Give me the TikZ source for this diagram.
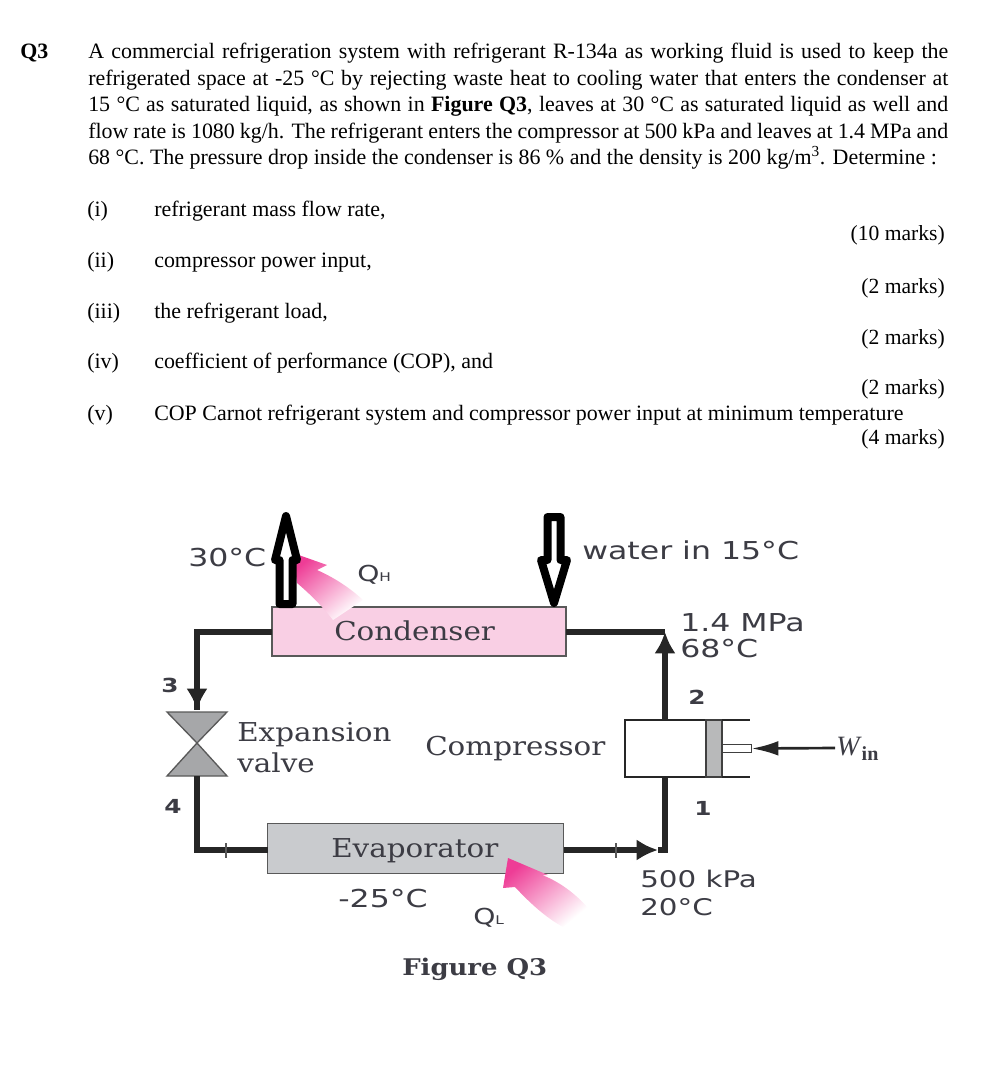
\documentclass[tikz,border=0pt]{standalone}
\usepackage{fontspec}
\setmainfont{Liberation Serif}
\newfontfamily\sanslabel[FakeStretch=1.28]{DejaVu Sans}
\newfontfamily\seriflabel[FakeStretch=1.13]{DejaVu Serif}
\usetikzlibrary{arrows.meta}
\usetikzlibrary{positioning}

\definecolor{condpink}{HTML}{F9CFE4}
\definecolor{evapgray}{HTML}{C9CBCE}
\definecolor{valvegray}{HTML}{A6A7A9}
\definecolor{heatpink}{HTML}{EE3D96}
\definecolor{inktext}{HTML}{3C3C44}

\tikzset{
  bodytext/.style={anchor=base west, inner sep=0pt, font=\fontsize{16.45}{19.8}\selectfont},
  marktext/.style={anchor=base east, inner sep=0pt, font=\fontsize{16.2}{19.8}\selectfont},
  senselabel/.style={anchor=base west, inner sep=0pt, text=inktext, font=\sanslabel\fontsize{18.5}{20}\selectfont},
  smalllabel/.style={anchor=base west, inner sep=0pt, text=inktext, font=\sanslabel\fontsize{17.2}{20}\selectfont},
  heatlabel/.style={anchor=base west, inner sep=0pt, text=inktext, font=\sanslabel\fontsize{16.5}{18}\selectfont},
  statenum/.style={anchor=base, inner sep=0pt, text=inktext, font=\sanslabel\bfseries\fontsize{14.5}{18}\selectfont},
  partlabel/.style={anchor=base west, inner sep=0pt, text=inktext, font=\seriflabel\fontsize{19.5}{22}\selectfont},
  unitbox/.style={draw=black!65, line width=1pt, outer sep=0pt, inner sep=0pt},
  pipe/.style={line width=3.8pt, draw=black!85},
  pipearrow/.style={pipe, -{Latex[length=16pt,width=16pt]}},
  waterarrow/.style={draw=black, line width=6pt, fill=white, line join=round},
  heatarrow/.style={shading=axis, top color=heatpink, bottom color=white},
  tickmark/.style={line width=0.8pt, draw=black!65},
  cyl/.style={line width=2pt, draw=black!85}
}

\begin{document}
\begin{tikzpicture}[x=0.75pt,y=-0.75pt]
  \useasboundingbox (0,0) rectangle (993,1080);

  % question text
  \node [anchor=base west, inner sep=0pt, font=\bfseries\fontsize{16.45}{19.8}\selectfont] (qnum) at (20,59) {Q3};
  \node [bodytext, text width=645pt, align=justify] (qtext) at (88,59)
    {A commercial refrigeration system with refrigerant R-134a as working fluid is used to keep the\linebreak
    refrigerated space at -25 °C by rejecting waste heat to cooling water that enters the condenser at\linebreak
    15 °C as saturated liquid, as shown in \textbf{Figure Q3}, leaves at 30 °C as saturated liquid as well and\linebreak
    flow rate is 1080 kg/h. The refrigerant enters the compressor at 500 kPa and leaves at 1.4 MPa and\linebreak
    68 °C. The pressure drop inside the condenser is 86 \% and the density is 200 kg/m\textsuperscript{3}. Determine :};

  \foreach \name/\ypos/\roman/\txt in {
      a/217/(i)/{refrigerant mass flow rate,},
      b/268/(ii)/{compressor power input,},
      c/318/(iii)/{the refrigerant load,},
      d/368/(iv)/{coefficient of performance (COP), and},
      e/420/(v)/{COP Carnot refrigerant system and compressor power input at minimum temperature}} {
    \node [bodytext] (num\name) at (87,\ypos) {\roman};
    \node [bodytext] (item\name) at (154,\ypos) {\txt};
  }
  \foreach \name/\ypos/\txt in {a/241/10, b/293/2, c/344/2, d/394/2, e/444/4}
    \node [marktext] (mark\name) at (945,\ypos) {(\txt\ marks)};

  % units
  \node [unitbox, fill=condpink, minimum width=220.5pt, minimum height=36.75pt] (condenser) at (419,631.5) {};
  \node [unitbox, fill=evapgray, minimum width=222pt, minimum height=37.5pt] (evaporator) at (415.5,848.5) {};
  \node [partlabel] (condtext) at (334,640) {Condenser};
  \node [partlabel] (evaptext) at (331,857) {Evaporator};

  % heat arrows
  \shade [heatarrow, shading angle=40] (293,553) -- (327,565) -- (317,570)
    .. controls (335,578) and (350,588) .. (363,600) -- (333,620)
    .. controls (322,606) and (310,594) .. (297,583) -- cycle;
  \shade [heatarrow, shading angle=40] (508,858) -- (548,875) -- (542,875)
    .. controls (558,881) and (575,893) .. (588,908) -- (563,927)
    .. controls (545,917) and (530,903) .. (515,887) -- (503,888) -- cycle;

  % water lines
  \draw [waterarrow] (279.5,604) -- (279.5,560) -- (275,560) -- (286,516) -- (297,560) -- (292.5,560) -- (292.5,604) -- cycle;
  \draw [waterarrow] (547.5,517) -- (547.5,560) -- (541,560) -- (554,603) -- (567,560) -- (560.5,560) -- (560.5,517) -- cycle;

  % valve
  \coordinate (valvemid) at (197,743);
  \filldraw [draw=black!65, fill=valvegray, line width=1pt] (167,712) -- (227,712) -- (valvemid) -- cycle;
  \filldraw [draw=black!65, fill=valvegray, line width=1pt] (167,776) -- (227,776) -- (valvemid) -- cycle;
  \coordinate (valvetop) at (197,710);
  \coordinate (valvebot) at (197,776);

  % compressor
  \node [cyl, draw, outer sep=0pt, inner sep=0pt, minimum width=60.75pt, minimum height=42.75pt] (cylinder) at (665.5,748.5) {};
  \node [draw=black!75, line width=1pt, fill=valvegray!80, outer sep=0pt, inner sep=0pt, minimum width=12pt, minimum height=42.75pt] (piston) at (714,748.5) {};
  \node [draw=black!75, line width=1pt, fill=white, outer sep=0pt, inner sep=0pt, minimum width=22pt, minimum height=6pt] (rod) at (737,748.5) {};
  \coordinate (cyltop) at (750,720);
  \coordinate (cylbot) at (750,777);
  \draw [cyl] (piston.north east) -- (cyltop);
  \draw [cyl] (piston.south east) -- (cylbot);

  % piping
  \coordinate (upleft) at (197,632);
  \coordinate (upright) at (665,632);
  \coordinate (lowleft) at (197,850);
  \coordinate (lowright) at (665,850);
  \coordinate (lowhead) at (658,850);
  \coordinate (workend) at (835,748);
  \draw [pipe] (condenser.west |- upleft) -- (upleft) -- (valvetop);
  \draw [pipearrow] (upleft) -- (valvetop);
  \draw [pipe] (condenser.east |- upright) -- (upright);
  \draw [pipearrow] (cylinder.north -| upright) -- (upright);
  \draw [pipe] (valvebot) -- (lowleft) -- (evaporator.west |- lowleft);
  \draw [pipearrow] (evaporator.east |- lowhead) -- (lowhead);
  \draw [pipe] (lowhead) -- (lowright) -- (cylinder.south -| lowright);
  \draw [line width=2pt, draw=black!85, -{Latex[length=20pt,width=11pt]}] (workend) -- (rod.east);
  \draw [tickmark] (226,843) -- (226,858);
  \draw [tickmark] (616,843) -- (616,858);

  % labels
  \node [senselabel] (hotout) at (188,566) {30°C};
  \node [senselabel] (coldin) at (582,559) {water in 15°C};
  \node [senselabel] (hipress) at (680,631) {1.4 MPa};
  \node [senselabel] (hitemp) at (680,657) {68°C};
  \node [senselabel] (lowtemp) at (338,907) {-25°C};
  \node [smalllabel] (lopress) at (640,887) {500 kPa};
  \node [smalllabel] (lotemp) at (640,915) {20°C};
  \node [heatlabel] (qhigh) at (357,581) {Q{\fontsize{9}{10}\selectfont H}};
  \node [heatlabel] (qlow) at (473,924) {Q{\fontsize{9}{10}\selectfont L}};
  \node [statenum] (state1) at (703,815) {1};
  \node [statenum] (state2) at (697,704) {2};
  \node [statenum] (state3) at (170,692) {3};
  \node [statenum] (state4) at (173,813) {4};
  \node [partlabel] (exptext) at (237,741) {Expansion};
  \node [partlabel] (valvetext) at (237,772) {valve};
  \node [partlabel] (comptext) at (425,755) {Compressor};
  \node [anchor=base west, inner sep=0pt, text=inktext, font=\fontsize{21}{22}\selectfont] (worktext) at (836,755)
    {\textit{W}\raisebox{-4pt}{\fontsize{15}{16}\selectfont\bfseries in}};
  \node [anchor=base west, inner sep=0pt, text=inktext, font=\seriflabel\bfseries\fontsize{17.2}{20}\selectfont] (figtext) at (402,975) {Figure Q3};
\end{tikzpicture}
\end{document}
